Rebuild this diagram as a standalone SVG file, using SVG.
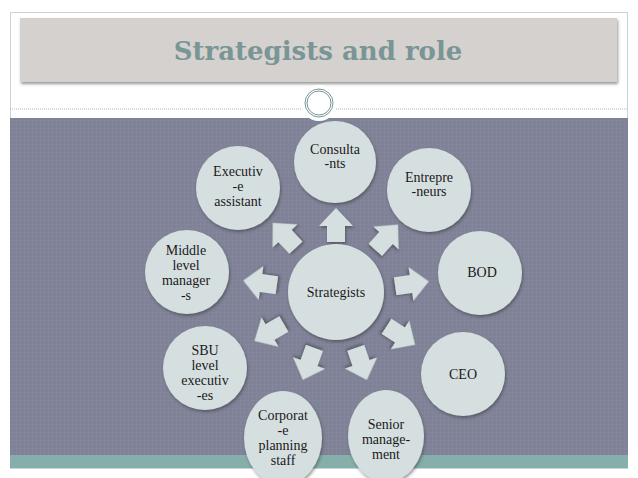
<svg xmlns="http://www.w3.org/2000/svg" width="638" height="478" viewBox="0 0 638 478">
<defs>
<pattern id="grid" width="4" height="4" patternUnits="userSpaceOnUse"><rect width="4" height="4" fill="#7f8297"/><path d="M0 0H4M0 0V4" stroke="#878a9e" stroke-width="1"/></pattern>
<filter id="sh" x="-20%" y="-20%" width="140%" height="140%"><feDropShadow dx="1" dy="2" stdDeviation="1.5" flood-color="#333" flood-opacity="0.5"/></filter>
<polygon id="arr" points="-9,16 9,16 9,0 17,0 0,-18 -17,0 -9,0"/>
</defs>
<style>
.n{fill:#d6dfe0;filter:url(#sh)}
.t{font-family:"Liberation Serif",serif;font-size:14px;fill:#1a1a1a;text-anchor:middle}
.a{fill:#d6dfe0;filter:url(#sh)}
</style>
<rect width="638" height="478" fill="#fff"/>
<rect x="10.5" y="12.5" width="617" height="456" fill="none" stroke="#c8d4d8"/>
<rect x="20" y="18" width="597" height="64" fill="#d5d1ce" filter="url(#sh)"/>
<text x="318" y="60" font-family="DejaVu Serif,serif" font-weight="bold" font-size="26" fill="#7a9595" text-anchor="middle">Strategists and role</text>
<line x1="10" y1="109" x2="628" y2="109" stroke="#a9bcbc" stroke-dasharray="1,1"/>
<rect x="10" y="118" width="618" height="337" fill="url(#grid)"/>
<rect x="10" y="455" width="618" height="13" fill="#86aeab"/>
<circle cx="319" cy="103" r="18" fill="#fff"/>
<circle cx="319" cy="103" r="14" fill="#fff" stroke="#7a9595" stroke-width="1"/>
<circle cx="319" cy="103" r="12" fill="none" stroke="#7a9595" stroke-width="1"/>
<g id="connectors">
<use href="#arr" class="a" transform="translate(336,226)"/>
<use href="#arr" class="a" transform="translate(386,238) rotate(42)"/>
<use href="#arr" class="a" transform="translate(411,284) rotate(82)"/>
<use href="#arr" class="a" transform="translate(400,335) rotate(123)"/>
<use href="#arr" class="a" transform="translate(361,363) rotate(161)"/>
<use href="#arr" class="a" transform="translate(309,363) rotate(200)"/>
<use href="#arr" class="a" transform="translate(270,332) rotate(240)"/>
<use href="#arr" class="a" transform="translate(261,283) rotate(278)"/>
<use href="#arr" class="a" transform="translate(285,236) rotate(317)"/>
</g>
<g id="strategists"><circle class="n" cx="336" cy="292" r="48"/><text class="t" x="336" y="297">Strategists</text></g>
<g id="consultants"><circle class="n" cx="335" cy="162" r="41"/><text class="t" x="335" y="154">Consulta</text><text class="t" x="335" y="168">-nts</text></g>
<g id="entrepreneurs"><circle class="n" cx="429" cy="190" r="42"/><text class="t" x="429" y="182">Entrepre</text><text class="t" x="429" y="196">-neurs</text></g>
<g id="bod"><circle class="n" cx="480" cy="273" r="42"/><text class="t" x="482" y="277">BOD</text></g>
<g id="ceo"><circle class="n" cx="463" cy="374" r="42"/><text class="t" x="463" y="379">CEO</text></g>
<g id="senior"><ellipse class="n" cx="386" cy="436" rx="38" ry="46"/><text class="t" x="386" y="429">Senior</text><text class="t" x="386" y="444">manage-</text><text class="t" x="386" y="459">ment</text></g>
<g id="corporate"><ellipse class="n" cx="283" cy="438" rx="39" ry="47"/><text class="t" x="283" y="420">Corporat</text><text class="t" x="283" y="435">-e</text><text class="t" x="283" y="450">planning</text><text class="t" x="283" y="465">staff</text></g>
<g id="sbu"><circle class="n" cx="205" cy="368" r="42"/><text class="t" x="205" y="355">SBU</text><text class="t" x="205" y="370">level</text><text class="t" x="205" y="385">executiv</text><text class="t" x="205" y="400">-es</text></g>
<g id="middle"><circle class="n" cx="187" cy="272" r="42"/><text class="t" x="186" y="255">Middle</text><text class="t" x="186" y="270">level</text><text class="t" x="186" y="285">manager</text><text class="t" x="186" y="300">-s</text></g>
<g id="executive"><circle class="n" cx="238" cy="188" r="42"/><text class="t" x="238" y="176">Executiv</text><text class="t" x="238" y="191">-e</text><text class="t" x="238" y="206">assistant</text></g>
</svg>
